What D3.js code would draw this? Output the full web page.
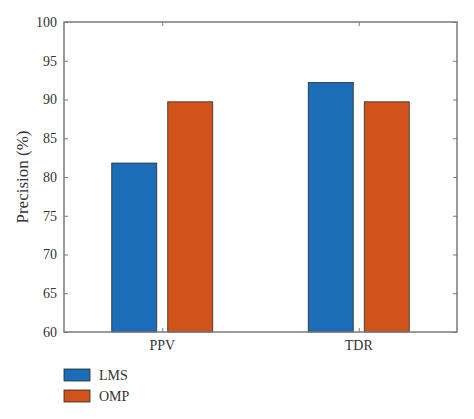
<!DOCTYPE html>
<html>
<head>
<meta charset="utf-8">
<script src="https://d3js.org/d3.v7.min.js"></script>
<style>
  body { margin: 0; background: #fff; }
  text { font-family: "Liberation Serif", "DejaVu Serif", serif; fill: #333; }
</style>
</head>
<body>
<div id="chart"></div>
<script>
var w = 474,
    h = 419;

// data
var categories = ["PPV", "TDR"],
    series = ["LMS", "OMP"],
    lms = [81.8, 92.2],
    omp = [89.7, 89.7],
    yticks = [60, 65, 70, 75, 80, 85, 90, 95, 100];

var colors = ["#1a6db6", "#d05419"];

// plot area (window.top is reserved, so keep these in an object)
var plot = {left: 64, right: 457, top: 22, bottom: 332};

var svg = d3.select("#chart").append("svg")
    .attr("width", w)
    .attr("height", h);

var x = d3.scaleLinear()
    .domain([0.5, 2.5])
    .range([plot.left, plot.right]);

var y = d3.scaleLinear()
    .domain([60, 100])
    .range([plot.bottom, plot.top]);

// offsets of the two bars in each group (in category units)
var bw = 45 / (x(2) - x(1)),
    off = 28 / (x(2) - x(1));

var bars = [];
categories.forEach(function(c, i) {
    bars.push({cat: i + 1, value: lms[i], s: 0});
    bars.push({cat: i + 1, value: omp[i], s: 1});
});

// bars
svg.append("g")
    .selectAll("rect")
    .data(bars)
    .enter().append("rect")
    .attr("x", function(d) {
        var c = d.cat + (d.s === 0 ? -off : off);
        return x(c - bw / 2);
    })
    .attr("width", function(d) { return x(1 + bw) - x(1); })
    .attr("y", function(d) { return y(d.value); })
    .attr("height", function(d) { return y(60) - y(d.value); })
    .attr("fill", function(d) { return colors[d.s]; })
    .attr("stroke", "#2a2a2a")
    .attr("stroke-width", 0.8);

// axes, matlab style with inward ticks
var axisColor = "#7a7a7a";

function tidy(g) {
    g.select(".domain").remove();
    g.selectAll("line").attr("stroke", axisColor);
}

svg.append("g")
    .attr("transform", "translate(" + plot.left + ",0)")
    .call(d3.axisRight(y).tickValues(yticks).tickSize(4).tickFormat(""))
    .call(tidy);

svg.append("g")
    .attr("transform", "translate(" + plot.right + ",0)")
    .call(d3.axisLeft(y).tickValues(yticks).tickSize(4).tickFormat(""))
    .call(tidy);

svg.append("g")
    .attr("transform", "translate(0," + plot.bottom + ")")
    .call(d3.axisTop(x).tickValues([1, 2]).tickSize(4).tickFormat(""))
    .call(tidy);

svg.append("g")
    .attr("transform", "translate(0," + plot.top + ")")
    .call(d3.axisBottom(x).tickValues([1, 2]).tickSize(4).tickFormat(""))
    .call(tidy);

// box
svg.append("rect")
    .attr("x", plot.left)
    .attr("y", plot.top)
    .attr("width", plot.right - plot.left)
    .attr("height", plot.bottom - plot.top)
    .attr("fill", "none")
    .attr("stroke", axisColor)
    .attr("stroke-width", 1.5);

// tick labels
svg.append("g")
    .selectAll("text")
    .data(yticks)
    .enter().append("text")
    .attr("x", plot.left - 7)
    .attr("y", function(d) { return y(d); })
    .attr("dy", "0.35em")
    .attr("text-anchor", "end")
    .style("font-size", "14px")
    .text(function(d) { return d; });

svg.append("g")
    .selectAll("text")
    .data(categories)
    .enter().append("text")
    .attr("x", function(d, i) { return x(i + 1); })
    .attr("y", plot.bottom + 18)
    .attr("text-anchor", "middle")
    .style("font-size", "14px")
    .text(function(d) { return d; });

// y label
svg.append("text")
    .attr("transform", "translate(28," + ((plot.top + plot.bottom) / 2) + ") rotate(-90)")
    .attr("text-anchor", "middle")
    .style("font-size", "17px")
    .text("Precision (%)");

// legend
var legend = svg.append("g")
    .attr("transform", "translate(64, 369)");

series.forEach(function(s, i) {
    legend.append("rect")
        .attr("x", 0)
        .attr("y", i * 21)
        .attr("width", 26)
        .attr("height", 12)
        .attr("fill", colors[i])
        .attr("stroke", "#2a2a2a")
        .attr("stroke-width", 0.8);

    legend.append("text")
        .attr("x", 35)
        .attr("y", i * 21 + 6)
        .attr("dy", "0.35em")
        .style("font-size", "14px")
        .text(s);
});
</script>
</body>
</html>
